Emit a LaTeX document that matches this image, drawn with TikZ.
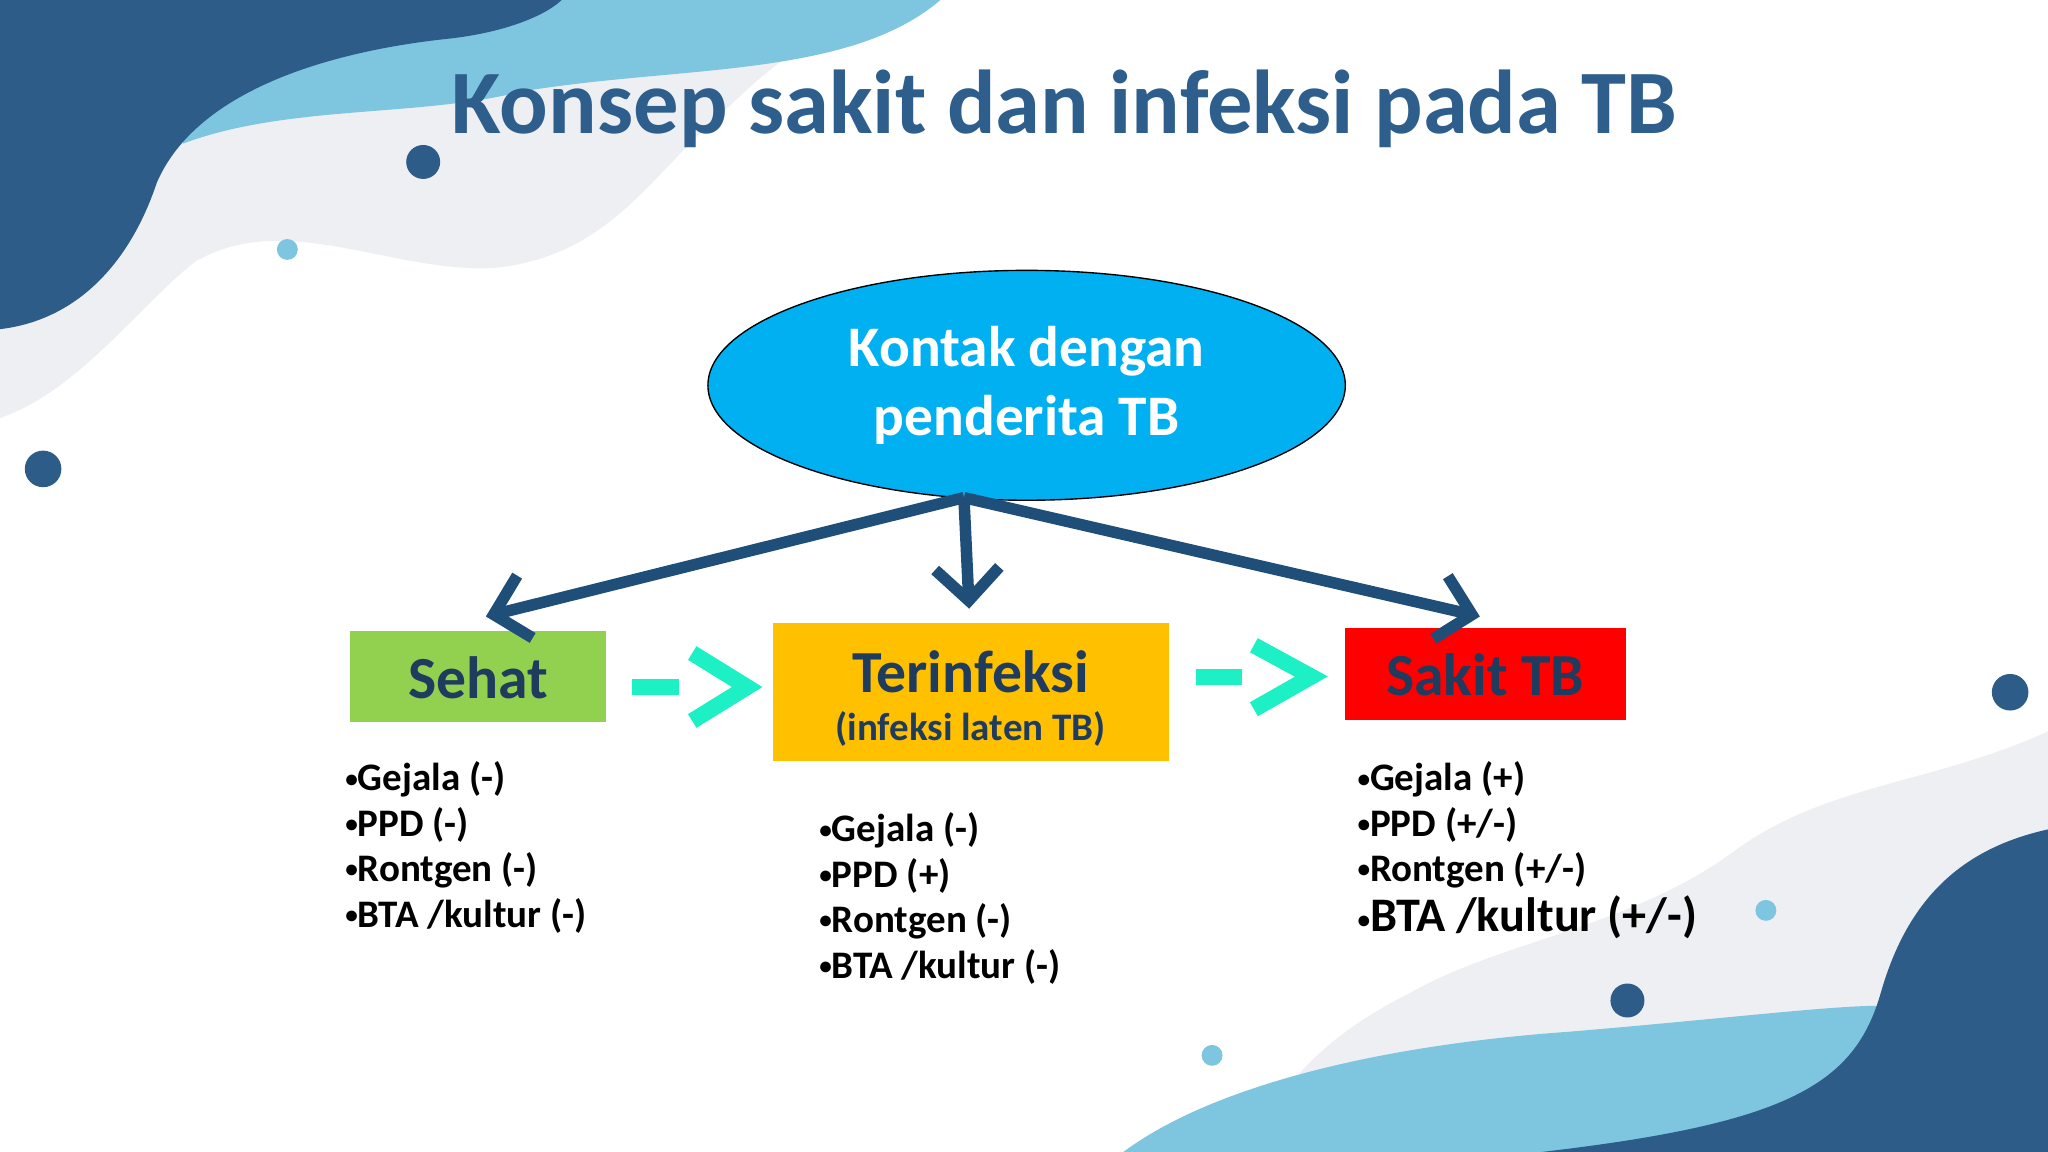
\documentclass[tikz,border=0pt]{standalone}
\usepackage{fontspec}
\setmainfont{Carlito}
\usetikzlibrary{shapes.geometric,arrows.meta}
\definecolor{dkb}{HTML}{2C5C87}
\definecolor{ltb}{HTML}{7EC6DF}
\definecolor{gry}{HTML}{EEEFF3}
\definecolor{ttl}{HTML}{2E5E8C}
\definecolor{cyanE}{HTML}{00B0F0}
\definecolor{grn}{HTML}{92D050}
\definecolor{org}{HTML}{FFC000}
\definecolor{txt}{HTML}{1F3B5E}
\definecolor{arr}{HTML}{1F4E79}
\definecolor{aqua}{HTML}{1CF0C4}
\newcommand{\bl}{{\fontsize{11}{11}\selectfont\raisebox{0.15em}{•}}}
\tikzset{
 lst/.style={anchor=north west,align=left,font=\fontsize{17}{19.8}\selectfont\bfseries,text=black,inner sep=0pt},
 darr/.style={draw=arr,line width=5pt,-{Straight Barb[length=14pt,width=28pt,line width=5pt]}},
 aq/.style={draw=aqua,line width=7pt},
}
\begin{document}
\begin{tikzpicture}[x=0.02cm,y=-0.02cm]
\useasboundingbox (0,0) rectangle (1568,882);
\fill[white] (0,0) rectangle (1568,882);
% top-left background
\fill[gry] (0,0) -- (0,320) .. controls (60,300) and (110,230) .. (150,200) .. controls (220,160) and (300,210) .. (380,205) .. controls (470,195) and (500,130) .. (560,80) .. controls (600,40) and (640,20) .. (660,0) -- cycle;
\fill[ltb] (140,0) -- (140,110) .. controls (220,80) and (320,90) .. (400,70) .. controls (520,50) and (650,60) .. (720,0) -- cycle;
\fill[dkb] (0,0) -- (0,252) .. controls (60,245) and (100,200) .. (120,140) .. controls (150,70) and (250,40) .. (340,30) .. controls (390,25) and (420,10) .. (430,0) -- cycle;
% bottom-right background
\fill[gry] (1568,560) .. controls (1480,600) and (1400,600) .. (1330,650) .. controls (1250,710) and (1150,720) .. (1080,760) .. controls (1000,800) and (980,840) .. (950,882) -- (1568,882) -- cycle;
\fill[ltb] (860,882) .. controls (930,830) and (1060,800) .. (1200,790) .. controls (1320,780) and (1400,770) .. (1440,770) -- (1568,780) -- (1568,882) -- cycle;
\fill[dkb] (1568,635) .. controls (1500,650) and (1460,690) .. (1440,760) .. controls (1420,830) and (1370,860) .. (1180,882) -- (1568,882) -- cycle;
% dots
\fill[dkb] (324,124) circle (13); \fill[ltb] (220,191) circle (8);
\fill[dkb] (33,359) circle (14); \fill[dkb] (1539,530) circle (14);
\fill[ltb] (1352,697) circle (8); \fill[dkb] (1246,766) circle (13);
\fill[ltb] (928,808) circle (8);
% title
\node (title) at (815,83) {\fontsize{39.5}{44}\selectfont\bfseries\color{ttl}Konsep sakit dan infeksi pada TB};
% ellipse
\node[ellipse,draw=black,line width=0.6pt,fill=cyanE,minimum width=488*0.02cm,minimum height=176*0.02cm,align=center,text=white,font=\fontsize{25}{30}\selectfont\bfseries] (kon) at (786,295) {Kontak dengan\\penderita TB};
% boxes
\fill[grn] (268,483) rectangle (464,553);
\node (seh) at (366,519) {\fontsize{26}{30}\selectfont\bfseries\color{txt}Sehat};
\fill[org] (592,477) rectangle (895,583);
\node (ter) at (743,514) {\fontsize{26}{30}\selectfont\bfseries\color{txt}Terinfeksi};
\node (lat) at (743,558) {\fontsize{17}{20}\selectfont\bfseries\color{txt}(infeksi laten TB)};
\fill[red] (1030,481) rectangle (1245,551);
\node (sak) at (1137,517) {\fontsize{26}{30}\selectfont\bfseries\color{txt}Sakit TB};
\coordinate (o) at (738,381);
\coordinate (s1) at (372,472);
\coordinate (s2) at (742,466);
\coordinate (s3) at (1133,472);
\draw[darr] (o) -- (s1);
\draw[darr] (o) -- (s2);
\draw[darr] (o) -- (s3);
% aqua arrows
\draw[aq] (484,526) -- (520,526);
\draw[aq,line join=miter] (530,500) -- (572,526) -- (530,552);
\draw[aq] (916,518) -- (951,518);
\draw[aq,line join=miter] (960,494) -- (1004,518) -- (960,543);
% lists
\node[lst] (l1) at (264,583) {\bl Gejala (-)\\\bl PPD (-)\\\bl Rontgen (-)\\\bl BTA /kultur (-)};
\node[lst] (l2) at (627,622) {\bl Gejala (-)\\\bl PPD (+)\\\bl Rontgen (-)\\\bl BTA /kultur (-)};
\node[lst] (l3) at (1039,583) {\bl Gejala (+)\\\bl PPD (+/-)\\\bl Rontgen (+/-)\\[2pt]{\fontsize{21}{24}\selectfont \bl BTA /kultur (+/-)}};
\end{tikzpicture}
\end{document}
